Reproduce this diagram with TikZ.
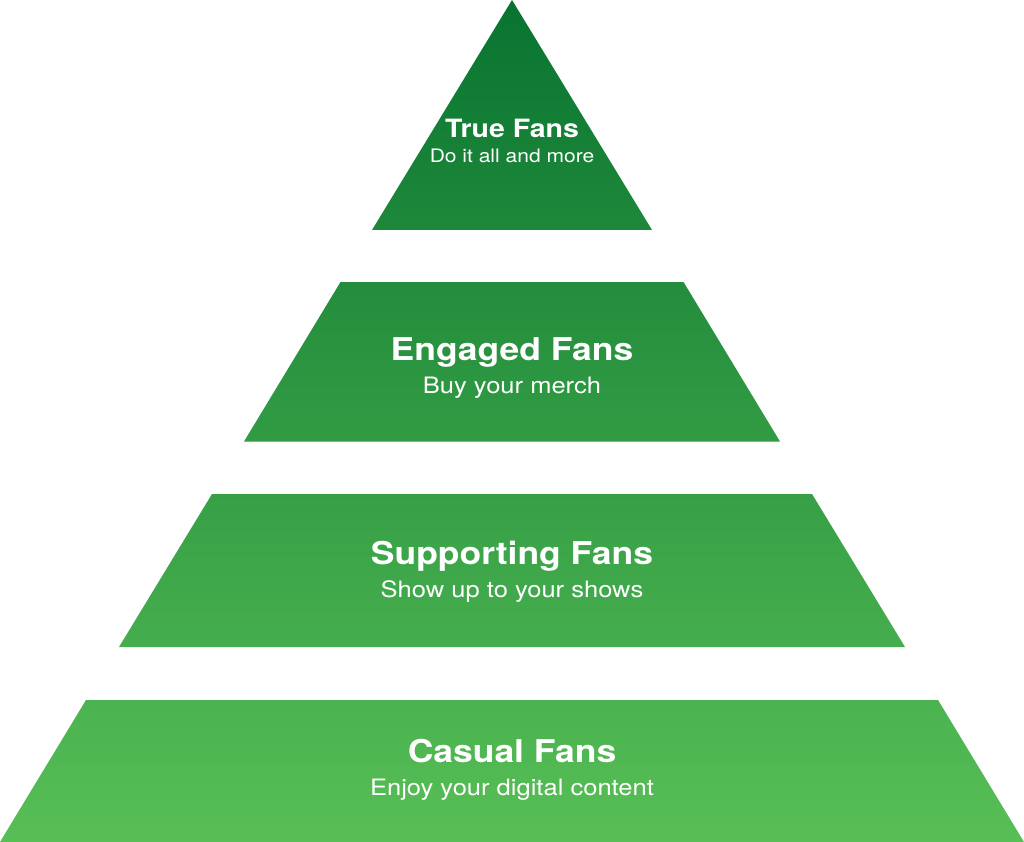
\documentclass[tikz,border=0pt]{standalone}
\usepackage{fontspec}
\setmainfont[FakeStretch=1.13]{TeX Gyre Heros}
\definecolor{gtop}{RGB}{8,116,48}
\definecolor{gbot}{RGB}{88,191,86}
\tikzset{
  title/.style={text=white, font=\bfseries\fontsize{31.4}{36}\selectfont, anchor=base, inner sep=0pt},
  smalltitle/.style={text=white, font=\bfseries\fontsize{25.2}{30}\selectfont, anchor=base, inner sep=0pt},
  sub/.style={text=white, font=\fontsize{22.6}{27}\selectfont, anchor=base, inner sep=0pt},
  smallsub/.style={text=white, font=\fontsize{18.6}{22}\selectfont, anchor=base, inner sep=0pt}
}
\begin{document}
\begin{tikzpicture}[x=1pt,y=-1pt]
\useasboundingbox (0,0) rectangle (1024,842);
\fill[white] (0,0) rectangle (1024,842);
\shade[top color=gtop, bottom color=gbot]
  (512,0) -- (652,230) -- (372,230) -- cycle
  (340.5,282) -- (683.5,282) -- (780,441.5) -- (244,441.5) -- cycle
  (212,494) -- (812,494) -- (905,647) -- (119,647) -- cycle
  (86,700) -- (938,700) -- (1024,842) -- (0,842) -- cycle;
\node[smalltitle] (t1) at (512,138) {True Fans};
\node[smallsub] (s1) at (512,163) {Do it all and more};
\node[title] (t2) at (512,360) {Engaged Fans};
\node[sub] (s2) at (512,393) {Buy your merch};
\node[title] (t3) at (512,564) {Supporting Fans};
\node[sub] (s3) at (512,597) {Show up to your shows};
\node[title] (t4) at (512,762) {Casual Fans};
\node[sub] (s4) at (512,795) {Enjoy your digital content};
\end{tikzpicture}
\end{document}
